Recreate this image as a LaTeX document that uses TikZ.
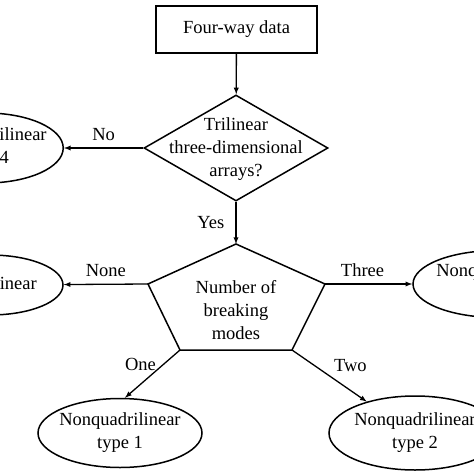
\documentclass[tikz,border=0pt]{standalone}
\usepackage{fontspec}
\setmainfont{Liberation Serif}
\usepackage{tikz}
\usetikzlibrary{shapes.geometric}
\usetikzlibrary{arrows.meta}
\tikzset{>=latex}
\newcommand{\bigtxt}{\fontsize{18.5pt}{23pt}\selectfont}
\tikzstyle{box}=[draw,line width=1.5pt,rectangle,minimum width=161,minimum height=47,inner sep=0,font=\bigtxt]
\tikzstyle{test}=[draw,line width=1.5pt,diamond,minimum width=184,minimum height=106,inner sep=0]
\tikzstyle{result}=[draw,line width=1.5pt,ellipse,inner xsep=-5pt,inner ysep=0pt,align=center,font=\bigtxt]
\tikzstyle{txt}=[align=center,font=\bigtxt,inner sep=1pt]
\tikzstyle{link}=[->,line width=1.3pt]

\begin{document}
\begin{tikzpicture}[x=1pt,y=-1pt]
 \useasboundingbox (0,0) rectangle (474,474);
 % start and first test
 \node[box] (data) at (236.5,29.5) {Four-way data};
 \node[test] (q1) at (236,148) {};
 \node[txt] (q1text) at (236,149) {Trilinear\\three-dimensional\\arrays?};
 % pentagon for the number of breaking modes
 \coordinate (ptop) at (236,244);
 \coordinate (pul) at (148,284);
 \coordinate (pur) at (325,284);
 \coordinate (pbr) at (292,350);
 \coordinate (pbl) at (180,350);
 \draw[line width=1.5pt,line join=miter] (ptop) -- (pur) -- (pbr) -- (pbl) -- (pul) -- cycle;
 \node[txt] (modes) at (236,310) {Number of\\breaking\\modes};
 % outcomes
 \node[result,inner xsep=-6pt,minimum width=154,minimum height=70] (type4) at (-14,148) {Nonquadrilinear\\type 4};
 \node[result,minimum width=146,minimum height=60] (quad) at (-10,285) {Quadrilinear};
 \node[result,minimum width=168,minimum height=67] (type3) at (497,284) {Nonquadrilinear\\type 3};
 \node[result,minimum width=164,minimum height=69] (type1) at (120,433) {Nonquadrilinear\\type 1};
 \node[result,minimum width=172,minimum height=74] (type2) at (415,433) {Nonquadrilinear\\type 2};
 %
 \draw[link] (data) -- (q1);
 \draw[link] (q1) -- node[txt,above=6pt] (no) {No} (type4);
 \draw[link] (q1) -- node[txt,left=10pt] (yes) {Yes} (ptop);
 \draw[link] (pul) -- node[txt,above=6pt] (none) {None} (quad);
 \draw[link] (pur) -- node[txt,above=6pt,pos=0.43] (three) {Three} (type3);
 \draw[link] (pbl) -- node[txt,left=6pt,pos=0.3] (one) {One} (type1.82);
 \draw[link] (pbr) -- node[txt,right=18pt,pos=0.3] (two) {Two} (type2.147);
\end{tikzpicture}
\end{document}
